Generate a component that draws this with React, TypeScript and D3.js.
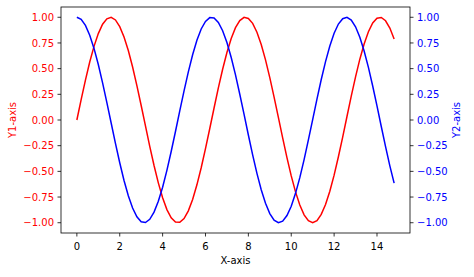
import React from "react";
import * as d3 from "d3";

const xValues = [0,0.2,0.4,0.6,0.8,1.0,1.2,1.4,1.6,1.8,2.0,2.2,2.4,2.6,2.8,3.0,3.2,3.4,3.6,3.8,4.0,4.2,4.4,4.6,4.8,5.0,5.2,5.4,5.6,5.8,6.0,6.2,6.4,6.6,6.8,7.0,7.2,7.4,7.6,7.8,8.0,8.2,8.4,8.6,8.8,9.0,9.2,9.4,9.6,9.8,10.0,10.2,10.4,10.6,10.8,11.0,11.2,11.4,11.6,11.8,12.0,12.2,12.4,12.6,12.8,13.0,13.2,13.4,13.6,13.8,14.0,14.2,14.4,14.6,14.8];
const y1Values = [0,0.199,0.389,0.565,0.717,0.841,0.932,0.985,1.0,0.974,0.909,0.808,0.676,0.516,0.335,0.141,-0.058,-0.256,-0.443,-0.612,-0.757,-0.872,-0.952,-0.994,-0.996,-0.959,-0.884,-0.773,-0.631,-0.465,-0.279,-0.083,0.117,0.312,0.494,0.657,0.794,0.899,0.968,0.999,0.989,0.941,0.855,0.734,0.585,0.412,0.223,0.025,-0.174,-0.367,-0.544,-0.700,-0.828,-0.923,-0.981,-1.0,-0.979,-0.919,-0.823,-0.694,-0.537,-0.358,-0.166,0.034,0.232,0.420,0.592,0.740,0.859,0.944,0.991,0.998,0.966,0.895,0.789];
const y2Values = [1,0.980,0.921,0.825,0.697,0.540,0.362,0.170,-0.029,-0.227,-0.416,-0.589,-0.737,-0.857,-0.942,-0.990,-0.998,-0.967,-0.897,-0.791,-0.654,-0.490,-0.307,-0.112,0.088,0.284,0.469,0.635,0.776,0.886,0.960,0.997,0.993,0.950,0.869,0.754,0.608,0.439,0.251,0.054,-0.146,-0.339,-0.519,-0.679,-0.811,-0.911,-0.975,-1.0,-0.985,-0.930,-0.839,-0.714,-0.561,-0.385,-0.194,0.004,0.203,0.394,0.568,0.720,0.844,0.934,0.986,0.999,0.973,0.907,0.806,0.672,0.512,0.331,0.137,-0.063,-0.260,-0.446,-0.615];
const xTicks = [0,2,4,6,8,10,12,14];
const yTicks = [-1.0,-0.75,-0.5,-0.25,0,0.25,0.5,0.75,1.0];

const W = 474, H = 277;
const L = 61, R = 410, T = 7, B = 233;
const FONT = "DejaVu Sans, sans-serif";

export default function App() {
  const x = d3.scaleLinear().domain([-0.74, 15.54]).range([L, R]);
  const y1 = d3.scaleLinear().domain([-1.1, 1.1]).range([B, T]);
  const y2 = d3.scaleLinear().domain([-1.1, 1.1]).range([B, T]);
  const line1 = d3.line<number>().x((_, i) => x(xValues[i])).y(d => y1(d));
  const line2 = d3.line<number>().x((_, i) => x(xValues[i])).y(d => y2(d));
  const fmt = d3.format(".2f");
  const lab = (v: number) => fmt(v).replace("-", "\u2212");
  return (
    <svg width={W} height={H} style={{ position: "absolute", left: 0, top: 0, background: "#fff" }} fontFamily={FONT}>
      <path d={line1(y1Values) || ""} fill="none" stroke="#ff0000" strokeWidth={1.5} />
      <path d={line2(y2Values) || ""} fill="none" stroke="#0000ff" strokeWidth={1.5} />
      <rect x={L} y={T} width={R - L} height={B - T} fill="none" stroke="#000" strokeWidth={0.8} />
      {xTicks.map(t => (
        <g key={"x" + t}>
          <line x1={x(t)} x2={x(t)} y1={B} y2={B + 3.5} stroke="#000" strokeWidth={0.8} />
          <text x={x(t)} y={B + 17} textAnchor="middle" fontSize={10} fill="#000">{t}</text>
        </g>
      ))}
      {yTicks.map(t => (
        <g key={"y1" + t}>
          <line x1={L - 3.5} x2={L} y1={y1(t)} y2={y1(t)} stroke="#000" strokeWidth={0.8} />
          <text x={L - 7} y={y1(t) + 3.6} textAnchor="end" fontSize={10} fill="#ff0000">{lab(t)}</text>
        </g>
      ))}
      {yTicks.map(t => (
        <g key={"y2" + t}>
          <line x1={R} x2={R + 3.5} y1={y2(t)} y2={y2(t)} stroke="#000" strokeWidth={0.8} />
          <text x={R + 7} y={y2(t) + 3.6} textAnchor="start" fontSize={10} fill="#0000ff">{lab(t)}</text>
        </g>
      ))}
      <text x={(L + R) / 2} y={264} textAnchor="middle" fontSize={10} fill="#000">X-axis</text>
      <text transform={`translate(15.5,${(T + B) / 2}) rotate(-90)`} textAnchor="middle" fontSize={10} fill="#ff0000">Y1-axis</text>
      <text transform={`translate(460,${(T + B) / 2}) rotate(-90)`} textAnchor="middle" fontSize={10} fill="#0000ff">Y2-axis</text>
    </svg>
  );
}
